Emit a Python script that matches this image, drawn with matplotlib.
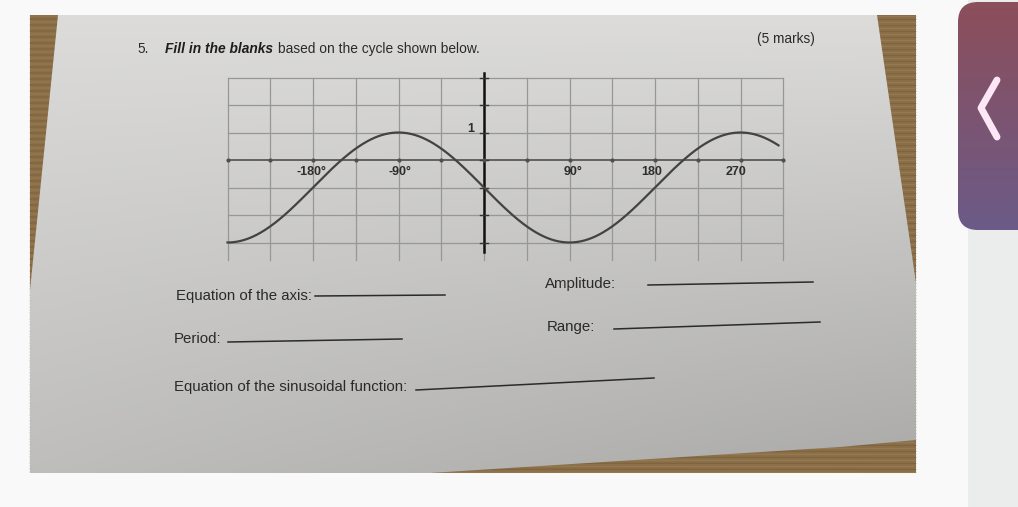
import numpy as np
import matplotlib.pyplot as plt
from matplotlib.patches import Polygon, Rectangle, FancyBboxPatch

plt.rcParams['font.family'] = ['Liberation Sans', 'DejaVu Sans']

W, H = 1018, 507

# the cycle drawn on the worksheet
x_start, x_end = -270, 310
amplitude = 2
axis_y = -1
period = 360
direction = -1          # curve falls through the y-axis
x_grid = list(range(-270, 316, 45))
y_grid = [-3, -2, -1, 0, 1, 2, 3]
x_labels = ['-180°', '-90°', '90°', '180', '270']
x_label_pos = [-182, -88, 94, 177, 265]
y_label = '1'
y_label_pos = 1

# worksheet text
title_num = '5.'
title_bold = 'Fill in the blanks'
title_rest = 'based on the cycle shown below.'
marks = '(5 marks)'
questions = ['Equation of the axis:', 'Period:', 'Equation of the sinusoidal function:',
             'Amplitude:', 'Range:']


fig = plt.figure(figsize=(W / 100, H / 100), dpi=100)
fig.patch.set_facecolor('#f9f9f9')

bg = fig.add_axes([0, 0, 1, 1])
bg.set_xlim(0, W)
bg.set_ylim(H, 0)
bg.axis('off')

# right strip of the screen
bg.add_patch(Rectangle((968, 0), 50, H, color='#ebedec', lw=0, zorder=0))

# wood under the sheet
bg.add_patch(Rectangle((30, 15), 886, 458, color='#8a6f48', lw=0, zorder=0.2))
for k, yy in enumerate(np.arange(16, 473, 3)):
    bg.plot([30, 916], [yy, yy + 0.5], color='#6f5636' if k % 2 else '#a4875a',
            lw=0.8, alpha=0.45, zorder=0.4)

# the sheet, with a little shading
paper = Polygon([(58, 15), (877, 15), (916, 283), (916, 440), (840, 447),
                 (430, 473), (30, 473), (30, 290)], closed=True,
                facecolor='none', edgecolor='none')
bg.add_patch(paper)
gy, gx = np.mgrid[0:1:120j, 0:1:120j]
shade = 220 - 30 * gy - 20 * gx * gy
img = np.dstack([shade, shade - 0.5, shade - 2.5]) / 255.0
im = bg.imshow(img, extent=(30, 916, 473, 15), aspect='auto', zorder=1)
im.set_clip_path(paper)

# worksheet text
bg.text(137, 49, title_num, fontsize=9.8, va='center', color='#2a2a2a', zorder=3)
bg.text(165, 49, title_bold, fontsize=9.9, va='center', fontweight='bold',
        fontstyle='italic', color='#1e1e1e', zorder=3)
bg.text(278, 49, title_rest, fontsize=9.9, va='center', color='#2a2a2a', zorder=3)
bg.text(757, 39, marks, fontsize=9.8, va='center', color='#2a2a2a', zorder=3)

q_pos = [(176, 296), (174, 339), (174, 387), (545, 284), (547, 327)]
blank_lines = [((315, 445), (296, 295)), ((228, 402), (342, 339)),
               ((416, 654), (390, 378)), ((648, 813), (285, 282)),
               ((614, 820), (329, 322))]
for q, (tx, ty) in zip(questions, q_pos):
    bg.text(tx, ty, q, fontsize=10.8, va='center', color='#2a2a2a', zorder=3)
for (lx, ly) in blank_lines:
    bg.plot(lx, ly, color='#2b2b2b', lw=1.1, zorder=3)

# tab on the right edge
tab = FancyBboxPatch((958, 2), 100, 228, boxstyle='round,pad=0,rounding_size=20',
                     facecolor='none', edgecolor='none')
bg.add_patch(tab)
tg = np.linspace(0, 1, 100)[:, None]
top = np.array([140, 78, 90]) / 255.0
bot = np.array([107, 91, 136]) / 255.0
tab_img = (top[None, None, :] * (1 - tg[:, :, None]) + bot[None, None, :] * tg[:, :, None])
tab_img = np.repeat(tab_img, 4, axis=1)
ti = bg.imshow(tab_img, extent=(958, 1018, 232, 0), aspect='auto', zorder=4)
ti.set_clip_path(tab)
bg.plot([997, 981, 997], [80, 108, 137], color='#fde6f5', lw=5,
        solid_capstyle='round', solid_joinstyle='round', zorder=5)
bg.set_xlim(0, W)
bg.set_ylim(H, 0)

# the graph
ax = fig.add_axes([218 / W, 1 - 264.5 / H, 570 / W, 198 / H])
ax.set_xlim(-280, 320)
ax.set_ylim(-3.8, 3.4)
ax.patch.set_alpha(0)
ax.axis('off')

for xv in x_grid:
    ax.plot([xv, xv], [-3.65, 3], color='#979797', lw=0.9)
for yv in y_grid:
    if yv == 0:
        ax.plot([-270, 315], [0, 0], color='#4f4f4f', lw=1.2)
    else:
        ax.plot([-270, 315], [yv, yv], color='#979797', lw=0.9)
ax.plot([0, 0], [-3.35, 3.15], color='#111111', lw=1.8)
for yv in y_grid:
    ax.plot([-4, 4], [yv, yv], color='#333333', lw=1)
ax.plot(x_grid, [0] * len(x_grid), 'o', color='#4f4f4f', ms=2)

xs = np.linspace(x_start, x_end, 600)
ys = axis_y + direction * amplitude * np.sin(np.radians(xs) * 360 / period)
ax.plot(xs, ys, color='#434343', lw=1.6)

for lab, xp in zip(x_labels, x_label_pos):
    ax.text(xp, -0.45, lab, ha='center', va='center', fontsize=9,
            fontweight='bold', color='#2e2e2e')
ax.text(-14, y_label_pos + 0.12, y_label, ha='center', va='center', fontsize=9,
        fontweight='bold', color='#2e2e2e')

fig.savefig('out.png', dpi=100, facecolor=fig.get_facecolor())
